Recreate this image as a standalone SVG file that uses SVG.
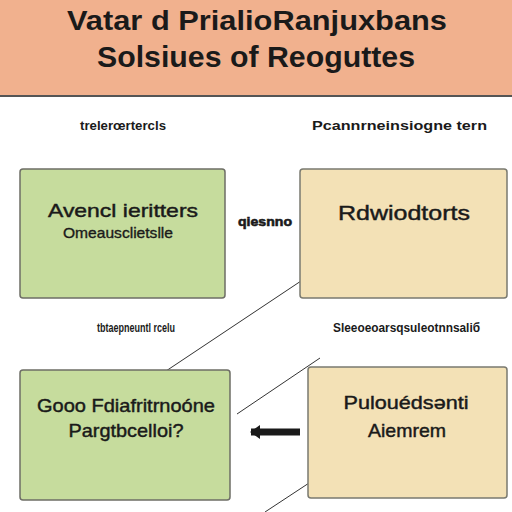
<svg xmlns="http://www.w3.org/2000/svg" width="512" height="512" viewBox="0 0 512 512">
<style>
.t{font-family:"Liberation Sans",Arial,sans-serif;fill:#1a1a1a}
.title{font-size:27px;font-weight:bold}
.lbl{font-size:12px;font-weight:bold}
.bx{font-size:19px;stroke:#1a1a1a;stroke-width:0.45}
.bxs{font-size:15px;stroke:#1a1a1a;stroke-width:0.35}
.g{fill:#c6dc9d;stroke:#6e6e66;stroke-width:1.5}
.y{fill:#f3e1b6;stroke:#7a7a70;stroke-width:1.5}
.ln{stroke:#333;stroke-width:1;fill:none}
</style>
<defs>
<marker id="ah" markerWidth="10" markerHeight="14" refX="1" refY="7" orient="auto" markerUnits="userSpaceOnUse">
<path d="M10,0 L0,7 L10,14 Z" fill="#1a1a1a"/>
</marker>
</defs>
<rect width="512" height="512" fill="#ffffff"/>
<g id="header">
<rect x="0" y="0" width="512" height="96" fill="#f1b18e"/>
<line x1="0" y1="96" x2="512" y2="96" stroke="#555" stroke-width="2"/>
<text class="t title" x="257" y="30" text-anchor="middle" textLength="380" lengthAdjust="spacingAndGlyphs">Vatar d PrialioRanjuxbans</text>
<text class="t title" x="256" y="67" text-anchor="middle" textLength="318" lengthAdjust="spacingAndGlyphs" style="font-size:29px">Solsiues of Reoguttes</text>
</g>
<g id="labels">
<text class="t lbl" x="80" y="130" textLength="86" lengthAdjust="spacingAndGlyphs">trelerœrtercls</text>
<text class="t lbl" x="312" y="130" textLength="175" lengthAdjust="spacingAndGlyphs">Pcannrneinsiogne tern</text>
<text class="t lbl" x="97" y="332" textLength="78" lengthAdjust="spacingAndGlyphs">tbtaepneuntl rcelu</text>
<text class="t lbl" x="333" y="332" textLength="147" lengthAdjust="spacingAndGlyphs">Sleeoeoarsqsuleotnnsaliб</text>
</g>
<g id="connectors">
<line class="ln" x1="301" y1="281" x2="133" y2="393"/>
<line class="ln" x1="320" y1="358" x2="237" y2="414"/>
<line class="ln" x1="344" y1="460" x2="265" y2="512"/>
<text class="t lbl" x="238" y="226" textLength="54" lengthAdjust="spacingAndGlyphs" style="font-size:13px;stroke:#1a1a1a;stroke-width:0.6">qiesnno</text>
<line x1="251" y1="432" x2="300" y2="432" stroke="#1a1a1a" stroke-width="7" marker-start="url(#ah)"/>
</g>
<g id="node-top-left">
<rect class="g" x="20" y="169" width="205" height="129" rx="3"/>
<text class="t bx" x="123" y="217" text-anchor="middle" textLength="150" lengthAdjust="spacingAndGlyphs">Avencl ieritters</text>
<text class="t bxs" x="118" y="238" text-anchor="middle" textLength="110" lengthAdjust="spacingAndGlyphs">Omeausclietslle</text>
</g>
<g id="node-top-right">
<rect class="y" x="300" y="169" width="207" height="129" rx="3"/>
<text class="t bx" x="404" y="220" text-anchor="middle" textLength="132" lengthAdjust="spacingAndGlyphs" style="font-size:21px">Rdwiodtorts</text>
</g>
<g id="node-bottom-left">
<rect class="g" x="20" y="370" width="210" height="130" rx="3"/>
<text class="t bx" x="126" y="412" text-anchor="middle" textLength="178" lengthAdjust="spacingAndGlyphs">Gooo Fdiafritrnoóne</text>
<text class="t bx" x="126" y="437" text-anchor="middle" textLength="115" lengthAdjust="spacingAndGlyphs">Pargtbcelloi?</text>
</g>
<g id="node-bottom-right">
<rect class="y" x="308" y="367" width="199" height="131" rx="3"/>
<text class="t bx" x="406" y="409" text-anchor="middle" textLength="125" lengthAdjust="spacingAndGlyphs">Pulouédsənti</text>
<text class="t bx" x="407" y="437" text-anchor="middle" textLength="78" lengthAdjust="spacingAndGlyphs">Aiemrem</text>
</g>
</svg>
